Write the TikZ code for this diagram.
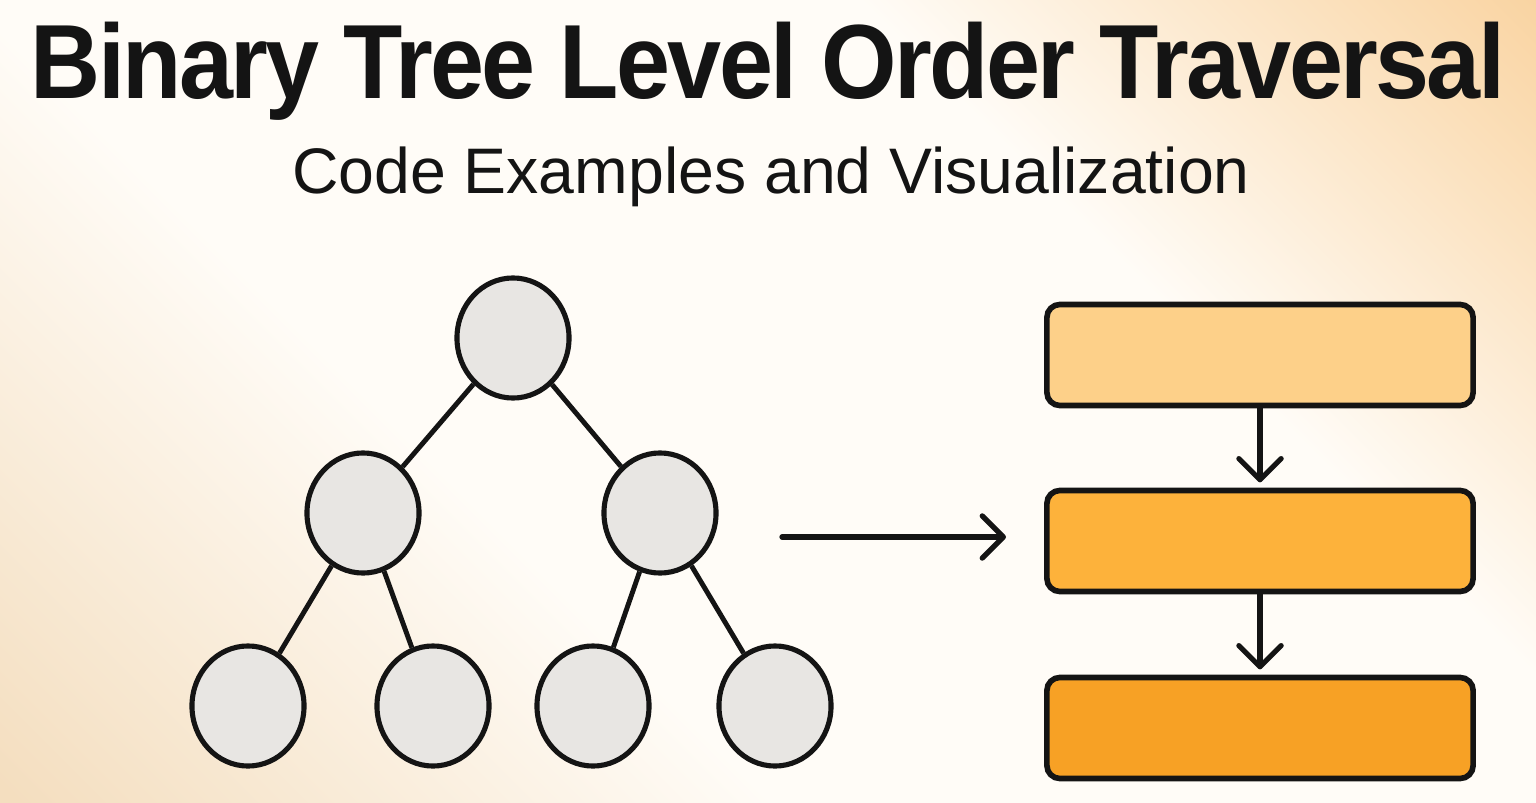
\documentclass[tikz,border=0pt]{standalone}
\usepackage{fontspec}
\setmainfont{Liberation Sans}
\newfontfamily\titlefont[LetterSpace=-2.5,FakeStretch=0.92]{Liberation Sans}
\usepackage{xcolor}
\usepackage{tikz}
\usetikzlibrary{arrows.meta,shapes.geometric}
\definecolor{figink}{HTML}{141414}
\definecolor{nodegray}{HTML}{E8E6E3}
\definecolor{qlight}{HTML}{FDD089}
\definecolor{qmid}{HTML}{FDB23B}
\definecolor{qdeep}{HTML}{F7A125}
\definecolor{washlo}{HTML}{F4DEBF}
\definecolor{washmid}{HTML}{FFFCF7}
\definecolor{washhi}{HTML}{F9D3A0}
\pgfdeclarehorizontalshading{bgwash}{100bp}{color(0bp)=(washlo); color(15bp)=(washlo); color(38bp)=(washmid); color(65bp)=(washmid); color(86bp)=(washhi); color(100bp)=(washhi)}
\tikzset{
  treenode/.style={ellipse,draw=figink,line width=1.45pt,fill=nodegray,minimum width=1.12cm,minimum height=1.2cm,inner sep=0pt},
  treeline/.style={figink,line width=1.4pt},
  queuebox/.style={rectangle,rounded corners=0.13cm,draw=figink,line width=1.6pt,minimum width=4.26cm,minimum height=1.01cm},
  flow/.style={figink,line width=1.5pt,line cap=round,-{Straight Barb[length=6pt,width=12pt,round]}}
}

\begin{document}
\begin{tikzpicture}[x=0.01cm,y=-0.01cm]
    \shade[shading=bgwash,shading angle=45] (0,0) rectangle (1536,803);
    \useasboundingbox (0,0) rectangle (1536,803);
    % heading
    \node[anchor=base,inner sep=0pt,text=figink,font=\titlefont\bfseries\fontsize{30}{36}\selectfont] (title) at (768,98) {Binary Tree Level Order Traversal};
    \node[anchor=base,inner sep=0pt,text=figink,font=\fontsize{18.3}{22}\selectfont] (subtitle) at (771,193) {Code Examples and Visualization};
    % tree
    \node[treenode] (root) at (513,338) {};
    \node[treenode] (n1) at (363,513) {};
    \node[treenode] (n2) at (660,513) {};
    \foreach \i/\x in {1/248,2/433,3/593,4/775} \node[treenode] (leaf\i) at (\x,706) {};
    \foreach \a/\b in {root/n1,root/n2,n1/leaf1,n1/leaf2,n2/leaf3,n2/leaf4} \draw[treeline] (\a) -- (\b);
    % queue
    \node[queuebox,fill=qlight] (q1) at (1260,355) {};
    \node[queuebox,fill=qmid] (q2) at (1260,541) {};
    \node[queuebox,fill=qdeep] (q3) at (1260,728) {};
    \draw[flow,shorten >=1.5pt] (q1) -- (q2);
    \draw[flow,shorten >=1.5pt] (q2) -- (q3);
    \coordinate (hstart) at (782,537);
    \coordinate (hend) at (1006,537);
    \draw[flow] (hstart) -- (hend);
\end{tikzpicture}
\end{document}
